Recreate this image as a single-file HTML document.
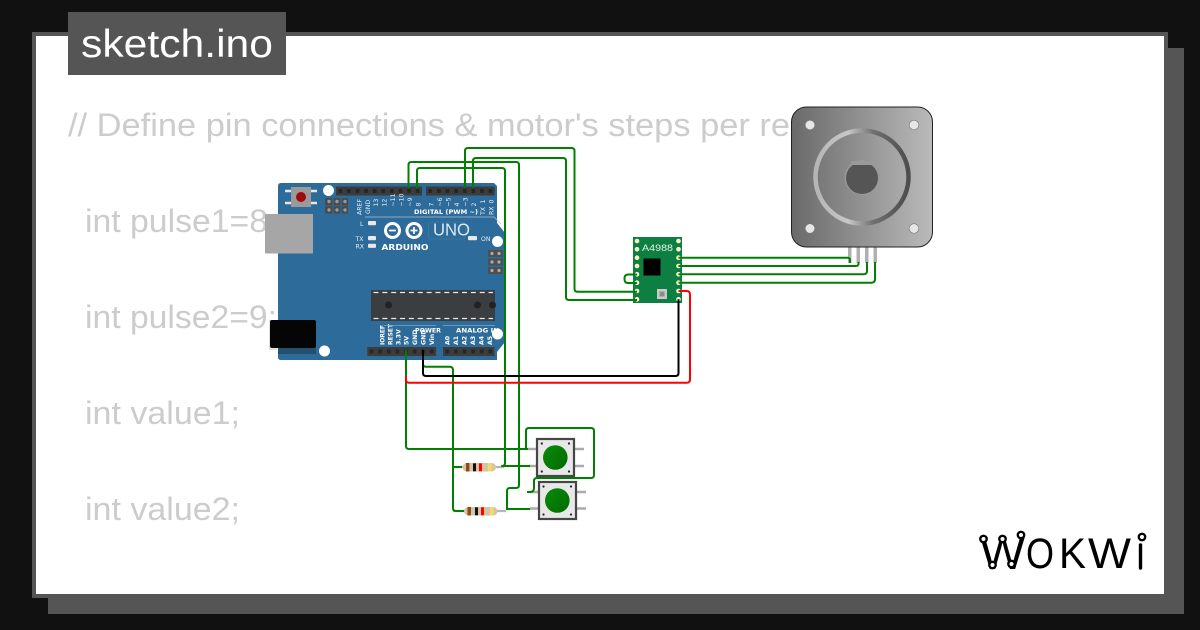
<!DOCTYPE html>
<html><head><meta charset="utf-8"><style>
html,body{margin:0;padding:0;background:#111;width:1200px;height:630px;overflow:hidden}
svg{display:block}
text{font-family:"Liberation Sans",sans-serif}
.c{font-size:32px;fill:#ccc}
.b{font-size:6.200px;fill:#e8eff5;font-family:"DejaVu Sans",sans-serif}
.bb{font-size:6.200px;fill:#fff;font-weight:bold;font-family:"DejaVu Sans",sans-serif}
.w{fill:none;stroke:#008000;stroke-width:2;stroke-linejoin:round}
.l{stroke:#b5b5b5;stroke-width:2.200}
.p{stroke:#aaa;stroke-width:2.600}
.k{font-size:43px;fill:#000}
</style></head><body>
<svg width="1200" height="630" viewBox="0 0 1200 630" xmlns="http://www.w3.org/2000/svg">
<defs>
<pattern id="h" x="0" y="0" width="8.600" height="9" patternUnits="userSpaceOnUse" patternTransform="translate(336,186.500)"><rect width="8.600" height="9" fill="#3c3c3c"/><rect x="2.500" y="2.500" width="3.600" height="4" fill="#262626"/></pattern>
<pattern id="h2" x="0" y="0" width="8.600" height="9" patternUnits="userSpaceOnUse" patternTransform="translate(426,186.500)"><rect width="8.600" height="9" fill="#3c3c3c"/><rect x="2.500" y="2.500" width="3.600" height="4" fill="#262626"/></pattern>
<pattern id="h3" x="0" y="0" width="8.600" height="9" patternUnits="userSpaceOnUse" patternTransform="translate(367.300,347)"><rect width="8.600" height="9" fill="#3c3c3c"/><rect x="2.500" y="2.500" width="3.600" height="4" fill="#262626"/></pattern>
<pattern id="h4" x="0" y="0" width="8.600" height="9" patternUnits="userSpaceOnUse" patternTransform="translate(443,347)"><rect width="8.600" height="9" fill="#3c3c3c"/><rect x="2.500" y="2.500" width="3.600" height="4" fill="#262626"/></pattern>
<linearGradient id="mg" x1="0" x2="1" y1="0" y2="0"><stop offset="0" stop-color="#6a6a6a"/><stop offset="1" stop-color="#bababa"/></linearGradient>
<linearGradient id="rg" x1="0" x2="1" y1="0" y2="0"><stop offset="0" stop-color="#b5b5b5"/><stop offset=".35" stop-color="#c8c8c8"/><stop offset=".62" stop-color="#707070"/><stop offset="1" stop-color="#4d4d4d"/></linearGradient>
<linearGradient id="gb" x1="0" x2="1" y1="0" y2="1"><stop offset="0" stop-color="#0a8a0a"/><stop offset="1" stop-color="#006b00"/></linearGradient>
</defs>

<!-- frame -->
<rect x="48" y="48" width="1136" height="566" fill="#555"/>
<rect x="34" y="34" width="1132" height="562" fill="#fff" stroke="#555" stroke-width="4"/>
<rect x="68" y="12" width="218" height="63" fill="#555"/>
<text x="81" y="57" font-size="39" fill="#fff" textLength="192" lengthAdjust="spacingAndGlyphs">sketch.ino</text>

<!-- code -->
<text class="c" x="68" y="136" textLength="722" lengthAdjust="spacingAndGlyphs">// Define pin connections &amp; motor's steps per re</text>
<text class="c" x="85" y="232" textLength="183" lengthAdjust="spacingAndGlyphs">int pulse1=8</text>
<text class="c" x="85" y="328" textLength="192" lengthAdjust="spacingAndGlyphs">int pulse2=9;</text>
<text class="c" x="85" y="424" textLength="155" lengthAdjust="spacingAndGlyphs">int value1;</text>
<text class="c" x="85" y="520" textLength="155" lengthAdjust="spacingAndGlyphs">int value2;</text>

<!-- Arduino -->
<path d="M281 183H494L497 186V223L505 233V342L497 352V360H281Q278 360 278 357V186Q278 183 281 183Z" fill="#2c6b9a"/>
<circle cx="328.500" cy="190.500" r="5.500" fill="#fff"/>
<circle cx="497.500" cy="241.500" r="5.500" fill="#fff"/>
<circle cx="497.500" cy="334" r="5.500" fill="#fff"/>
<circle cx="324.500" cy="351" r="5.500" fill="#fff"/>
<!-- reset -->
<g stroke="#e6e6e6" stroke-width="2.400"><path d="M285 191h6M285 203h6M311 191h6M311 203h6"/></g>
<rect x="291" y="187" width="20" height="20" fill="#9a9a9a"/>
<circle cx="301" cy="197" r="5" fill="#a00a0a"/>
<!-- ICSP top -->
<rect x="325" y="198" width="23" height="15.500" fill="#4a4a4a"/>
<g fill="#999"><circle cx="329" cy="201.500" r="1.700"/><circle cx="337" cy="201.500" r="1.700"/><circle cx="345" cy="201.500" r="1.700"/><circle cx="329" cy="210" r="1.700"/><circle cx="337" cy="210" r="1.700"/><circle cx="345" cy="210" r="1.700"/></g>
<rect x="325" y="205.400" width="23" height=".8" fill="#2c6b9a"/>
<rect x="332.300" y="198" width="1.400" height="15.500" fill="#2c6b9a"/><rect x="340.300" y="198" width="1.400" height="15.500" fill="#2c6b9a"/>
<!-- ICSP right -->
<g fill="#4f4f4f"><rect x="488" y="250" width="15" height="7"/><rect x="488" y="258.500" width="15" height="7"/><rect x="488" y="267" width="15" height="7"/></g>
<g fill="#aaa"><circle cx="492" cy="253.500" r="1.600"/><circle cx="499" cy="253.500" r="1.600"/><circle cx="492" cy="262" r="1.600"/><circle cx="499" cy="262" r="1.600"/><circle cx="492" cy="270.500" r="1.600"/><circle cx="499" cy="270.500" r="1.600"/></g>
<!-- USB -->
<rect x="265" y="214" width="48" height="39.500" fill="#a6a6a6"/>
<!-- jack -->
<rect x="269" y="320" width="8" height="30" fill="#d0d0d0" opacity=".6"/>
<rect x="270" y="320" width="46" height="28" rx="2" fill="#050505"/>
<rect x="278" y="348" width="38" height="6" fill="#24506f"/>
<!-- headers -->
<rect x="336" y="186.500" width="86" height="9" fill="url(#h)"/>
<rect x="426" y="186.500" width="68.800" height="9" fill="url(#h2)"/>
<rect x="367.300" y="347" width="68.800" height="9" fill="url(#h3)"/>
<rect x="443" y="347" width="51.600" height="9" fill="url(#h4)"/>
<!-- chip -->
<rect x="371" y="290" width="124" height="31" fill="#3b3e40"/>
<path d="M373.500 292.500H493M373.500 318.500H493" stroke="#e8e8e8" stroke-width="1.300" stroke-dasharray="5 3.850"/>
<circle cx="388.500" cy="305" r="3.500" fill="#222"/><circle cx="477.500" cy="305" r="3.500" fill="#222"/><circle cx="492.500" cy="305" r="3.500" fill="#222"/>
<!-- board text -->
<text class="b" transform="translate(361.500,215) rotate(-90)">AREF</text>
<text class="b" transform="translate(370,214) rotate(-90)">GND</text>
<text class="b" transform="translate(378,206.500) rotate(-90)">13</text>
<text class="b" transform="translate(386.500,206.500) rotate(-90)">12</text>
<text class="b" transform="translate(395,206.500) rotate(-90)">~11</text>
<text class="b" transform="translate(403.500,206.500) rotate(-90)">~10</text>
<text class="b" transform="translate(412,206.500) rotate(-90)">~9</text>
<text class="b" transform="translate(420.500,206.500) rotate(-90)">8</text>
<text class="b" transform="translate(433.500,206.500) rotate(-90)">7</text>
<text class="b" transform="translate(442,206.500) rotate(-90)">~6</text>
<text class="b" transform="translate(450.500,206.500) rotate(-90)">~5</text>
<text class="b" transform="translate(459,206.500) rotate(-90)">4</text>
<text class="b" transform="translate(467.500,206.500) rotate(-90)">~3</text>
<text class="b" transform="translate(476,206.500) rotate(-90)">2</text>
<text class="b" transform="translate(485,203.500) rotate(-90)">1</text>
<text class="b" transform="translate(493.500,203.500) rotate(-90)">0</text>
<text class="b" transform="translate(485,215) rotate(-90)">TX</text>
<text class="b" transform="translate(493.500,215) rotate(-90)">RX</text>
<text class="bb" x="414" y="214" textLength="64" lengthAdjust="spacingAndGlyphs">DIGITAL (PWM ~)</text>
<path d="M365 217H494L501 224" fill="none" stroke="#a9c4d6" stroke-width=".7"/>
<!-- leds -->
<g fill="#e8e8e8"><rect x="368" y="221" width="8" height="4.200" rx="1"/><rect x="368" y="236" width="8" height="4.200" rx="1"/><rect x="368" y="243.700" width="8" height="4.200" rx="1"/><rect x="468" y="236" width="9" height="4.200" rx="1"/></g>
<text class="b" x="360" y="226">L</text>
<text class="b" x="355.500" y="241">TX</text>
<text class="b" x="355.500" y="248.700">RX</text>
<text class="b" x="481" y="241">ON</text>
<!-- logo -->
<g fill="none" stroke="#fff" stroke-width="3">
<circle cx="392.500" cy="230.500" r="7"/><circle cx="414" cy="230.500" r="7"/>
</g>
<path d="M389 230.500h7M410.500 230.500h7M414 227v7" stroke="#fff" stroke-width="1.700"/>
<text x="381.500" y="250" font-size="8" font-weight="bold" fill="#fff" textLength="47" lengthAdjust="spacingAndGlyphs" style="font-family:'DejaVu Sans',sans-serif">ARDUINO</text>
<rect x="428.500" y="222" width="37" height="17" rx="3" fill="none" stroke="#3f7aa6" stroke-width=".8"/>
<text x="433" y="235.500" font-size="17.500" fill="#dfe9f1" textLength="37" lengthAdjust="spacingAndGlyphs">UNO</text>
<!-- bottom labels -->
<text class="bb" transform="translate(384.500,345) rotate(-90)" textLength="20" lengthAdjust="spacingAndGlyphs">IOREF</text>
<text class="bb" transform="translate(392.500,345) rotate(-90)" textLength="21" lengthAdjust="spacingAndGlyphs">RESET</text>
<text class="bb" transform="translate(400.500,345) rotate(-90)">3.3V</text>
<text class="bb" transform="translate(408.500,345) rotate(-90)">5V</text>
<text class="bb" transform="translate(417,345) rotate(-90)">GND</text>
<text class="bb" transform="translate(425.500,345) rotate(-90)">GND</text>
<text class="bb" transform="translate(434,345) rotate(-90)">Vin</text>
<text class="bb" transform="translate(449.500,345) rotate(-90)">A0</text>
<text class="bb" transform="translate(458,345) rotate(-90)">A1</text>
<text class="bb" transform="translate(466.500,345) rotate(-90)">A2</text>
<text class="bb" transform="translate(475,345) rotate(-90)">A3</text>
<text class="bb" transform="translate(483.500,345) rotate(-90)">A4</text>
<text class="bb" transform="translate(492,345) rotate(-90)">A5</text>
<text class="bb" x="415" y="332.500" textLength="26" lengthAdjust="spacingAndGlyphs">POWER</text>
<text class="bb" x="456" y="332.500" textLength="43" lengthAdjust="spacingAndGlyphs">ANALOG IN</text>
<path d="M384 325.500H436M443 325.500H495" stroke="#7fa5c2" stroke-width=".7"/>

<!-- A4988 -->
<rect x="633" y="237" width="49" height="66" fill="#0d7f42"/>
<rect x="643.500" y="258.500" width="17" height="17" fill="#000"/>
<rect x="657" y="289" width="10" height="10" fill="#c9c9c9"/><rect x="659.500" y="291.500" width="5" height="5" fill="#8d8d8d"/>
<text x="642" y="251" font-size="9.500" fill="#e6f0e6" textLength="31" lengthAdjust="spacingAndGlyphs">A4988</text>
<g fill="#ffefa0" stroke="#fff" stroke-width=".6">
<circle cx="637" cy="241" r="2"/><circle cx="637" cy="249.300" r="2"/><circle cx="637" cy="257.700" r="2"/><circle cx="637" cy="266" r="2"/><circle cx="637" cy="274.300" r="2"/><circle cx="637" cy="282.700" r="2"/><circle cx="637" cy="291" r="2"/><circle cx="637" cy="299.300" r="2"/>
<circle cx="678.500" cy="241" r="2"/><circle cx="678.500" cy="249.300" r="2"/><circle cx="678.500" cy="257.700" r="2"/><circle cx="678.500" cy="266" r="2"/><circle cx="678.500" cy="274.300" r="2"/><circle cx="678.500" cy="282.700" r="2"/><circle cx="678.500" cy="291" r="2"/><circle cx="678.500" cy="299.300" r="2"/>
</g>

<!-- Motor -->
<g fill="#b0b0b0"><rect x="848" y="246" width="3.500" height="17"/><rect x="856.500" y="246" width="3.500" height="17"/><rect x="865" y="246" width="3.500" height="17"/><rect x="873.500" y="246" width="3.500" height="17"/></g>
<rect x="791.500" y="107" width="141" height="140" rx="15" fill="url(#mg)" stroke="#222" stroke-width="1"/>
<g fill="#e6e6e6" stroke="#777" stroke-width=".6"><circle cx="810" cy="125" r="4.800"/><circle cx="914" cy="125" r="4.800"/><circle cx="810" cy="228.500" r="4.800"/><circle cx="914" cy="228.500" r="4.800"/></g>
<circle cx="862" cy="177" r="46.500" fill="none" stroke="url(#rg)" stroke-width="4.500"/>
<circle cx="862" cy="177.500" r="17.500" fill="#999"/>
<circle cx="862" cy="178" r="16" fill="#555"/>
<path d="M852 161h20l2 4h-24z" fill="#999"/>

<!-- Resistors -->
<path class="l" d="M453 467H504M453 511H506" fill="none"/>
<rect x="462.500" y="463" width="33.500" height="8.500" rx="4.200" fill="#d9c3a5"/>
<g><rect x="466" y="463" width="3.400" height="8.500" fill="#8b4a17"/><rect x="473" y="463.300" width="3" height="8" fill="#111"/><rect x="479" y="463.300" width="3" height="8" fill="#f00"/><rect x="488" y="463" width="3.600" height="8.500" fill="#f0dc64"/></g>
<rect x="464" y="507" width="33.500" height="8.500" rx="4.200" fill="#d9c3a5"/>
<g><rect x="467.500" y="507" width="3.400" height="8.500" fill="#8b4a17"/><rect x="475" y="507.300" width="3" height="8" fill="#111"/><rect x="481" y="507.300" width="3" height="8" fill="#f00"/><rect x="490" y="507" width="3.600" height="8.500" fill="#f0dc64"/></g>

<!-- Buttons -->
<path class="p" d="M528 449H536M528 466H536M575 449H584M575 466H584M530 492H538M530 508.500H538M577 492H586M577 508.500H586" fill="none"/>
<rect x="537" y="439" width="37" height="37" fill="#e8e8e8" stroke="#464646" stroke-width="2.200"/>
<circle cx="555.300" cy="457.500" r="12.300" fill="url(#gb)"/>
<g fill="#222"><circle cx="541.800" cy="443.500" r="1.100"/><circle cx="569" cy="443.500" r="1.100"/><circle cx="541.800" cy="471.500" r="1.100"/><circle cx="569" cy="471.500" r="1.100"/></g>
<rect x="539" y="482" width="37" height="37" fill="#e8e8e8" stroke="#464646" stroke-width="2.200"/>
<circle cx="557.300" cy="500.500" r="12.300" fill="url(#gb)"/>
<g fill="#222"><circle cx="543.500" cy="486.500" r="1.100"/><circle cx="571" cy="486.500" r="1.100"/><circle cx="543.500" cy="514.500" r="1.100"/><circle cx="571" cy="514.500" r="1.100"/></g>

<!-- Wires -->
<path class="w" d="M408.500 188V165Q408.500 162 411.500 162H516Q519 162 519 165V485Q519 488 516 488H510Q507 488 507 491V510"/>
<path class="w" d="M417 188V171Q417 168 420 168H502Q505 168 505 171V463Q505 466 502 466H504M504 466H530"/>
<path class="w" d="M465 188V151Q465 148 468 148H571.500Q574.500 148 574.500 151V288.700Q574.500 291.700 577.500 291.700H637"/>
<path class="w" d="M473 188V161Q473 158 476 158H563Q566 158 566 161V297Q566 300 569 300H637"/>
<path class="w" d="M637 274.500H628Q624.500 274.500 624.500 278.500V279Q624.500 283 628 283H637"/>
<path class="w" d="M678.500 257.700H847.500Q850 257.700 850 260V263"/>
<path class="w" d="M678.500 266H856Q858.500 266 858.500 263.500V262"/>
<path class="w" d="M678.500 274.300H863.500Q867 274.300 867 271V262"/>
<path class="w" d="M678.500 282.700H871.500Q875 282.700 875 279V262"/>
<path class="w" d="M406 350V446Q406 449 409 449H528"/>
<path class="w" d="M526 449V431Q526 428 529 428H591Q594 428 594 431V475Q594 478 591 478H537Q534 478 534 481V488Q534 492 530 492H527"/>
<path class="w" d="M423 350V364Q423 366.700 426 366.700H449.500Q453 366.700 453 370V508Q453 511 456 511H464"/>
<path class="w" d="M453 467H462"/>
<path class="w" d="M506 509H530"/>
<path d="M678.500 291H686.500Q690 291 690 294.500V379.500Q690 382.700 687 382.700H409Q406 382.700 406 380V376" fill="none" stroke="#f00" stroke-width="2"/>
<path d="M678.500 299.300V373Q678.500 376 675.500 376H426Q423 376 423 373V350" fill="none" stroke="#000" stroke-width="2"/>

<!-- Wokwi logo -->
<text class="k" x="980" y="569" textLength="45" lengthAdjust="spacingAndGlyphs" style="font-size:46px">W</text>
<text class="k" x="1026" y="568" textLength="28" lengthAdjust="spacingAndGlyphs">O</text>
<text class="k" x="1059" y="568" textLength="27" lengthAdjust="spacingAndGlyphs">K</text>
<text class="k" x="1088" y="568" textLength="43" lengthAdjust="spacingAndGlyphs">W</text>
<path d="M1140.500 545V568" stroke="#000" stroke-width="3.400" stroke-linecap="round"/>
<g fill="#fff" stroke="#000" stroke-width="2.400">
<circle cx="983.500" cy="539" r="3.200"/><circle cx="1002.500" cy="539" r="3.200"/><circle cx="1021" cy="535" r="3.200"/><circle cx="992.500" cy="565" r="3.200"/><circle cx="1011.500" cy="564" r="3.200"/><circle cx="1142" cy="537" r="3.200"/>
</g>
</svg>
</body></html>
